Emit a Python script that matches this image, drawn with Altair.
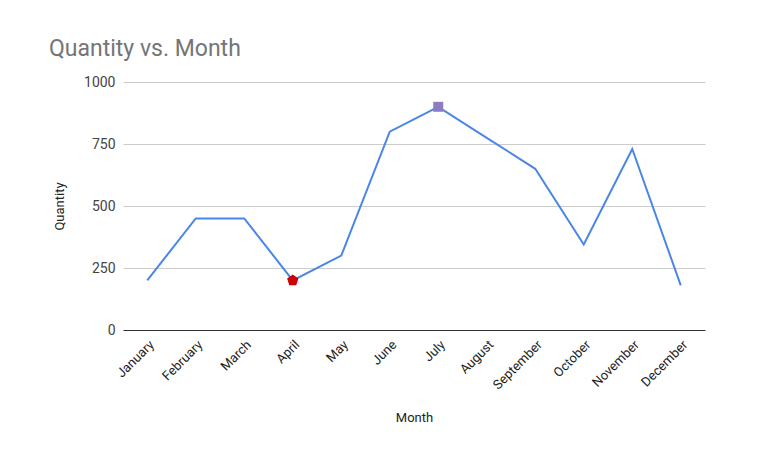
import altair as alt
import pandas as pd

months = ["January", "February", "March", "April", "May", "June", "July",
          "August", "September", "October", "November", "December"]
quantity = [200, 450, 450, 200, 300, 800, 900, 775, 650, 345, 730, 180]

marked_months = ["April", "July"]
marked_kind = ["Low", "High"]

df = pd.DataFrame({"Month": months, "Quantity": quantity})
mk = pd.DataFrame({"Month": marked_months, "Kind": marked_kind})
mk["Quantity"] = [quantity[months.index(m)] for m in marked_months]

FONT = "Roboto"
pentagon = "M0,-1L0.951,-0.309L0.588,0.809L-0.588,0.809L-0.951,-0.309Z"

x_enc = alt.X("Month:N", sort=months, title="Month",
              scale=alt.Scale(paddingOuter=0.5),
              axis=alt.Axis(labelAngle=-45, labelAlign="right", labelBaseline="top",
                            ticks=False, domain=True, domainColor="#333333",
                            domainWidth=1, labelPadding=8, labelFontSize=13,
                            labelColor="#222222", titleFontSize=13,
                            titleFontWeight="normal", titleColor="#222222",
                            titlePadding=20, grid=False, labelFont=FONT,
                            titleFont=FONT))
y_enc = alt.Y("Quantity:Q", title="Quantity",
              scale=alt.Scale(domain=[0, 1000], nice=False),
              axis=alt.Axis(values=[0, 250, 500, 750, 1000], format="d", ticks=False,
                            domain=False, gridColor="#cccccc", labelPadding=8,
                            labelFontSize=14, labelColor="#444444",
                            titleFontSize=13, titleFontWeight="normal",
                            titleColor="#222222", titlePadding=17,
                            labelFont=FONT, titleFont=FONT))

line = alt.Chart(df).mark_line(color="#4a86e8", strokeWidth=2).encode(x=x_enc, y=y_enc)

pts = alt.Chart(mk).mark_point(filled=True, opacity=1).encode(
    x=alt.X("Month:N", sort=months),
    y="Quantity:Q",
    color=alt.Color("Kind:N", scale=alt.Scale(domain=["Low", "High"],
                                              range=["#cc0000", "#8e7cc3"]),
                    legend=None),
    shape=alt.Shape("Kind:N", scale=alt.Scale(domain=["Low", "High"],
                                              range=[pentagon, "square"]),
                    legend=None),
    size=alt.Size("Kind:N", scale=alt.Scale(domain=["Low", "High"],
                                            range=[140, 100]),
                  legend=None),
)

chart = (line + pts).properties(
    width=582, height=248,
    title=alt.TitleParams("Quantity vs. Month", anchor="start", frame="group",
                          dx=-74, offset=14, fontSize=23, font=FONT,
                          fontWeight="normal", color="#757575"),
    padding={"left": 123, "top": 82, "right": 63, "bottom": 137},
    autosize=alt.AutoSizeParams(type="none"),
).configure(background="white").configure_view(stroke=None)

chart.save("out.html", embed_options={"renderer": "svg", "actions": False})
